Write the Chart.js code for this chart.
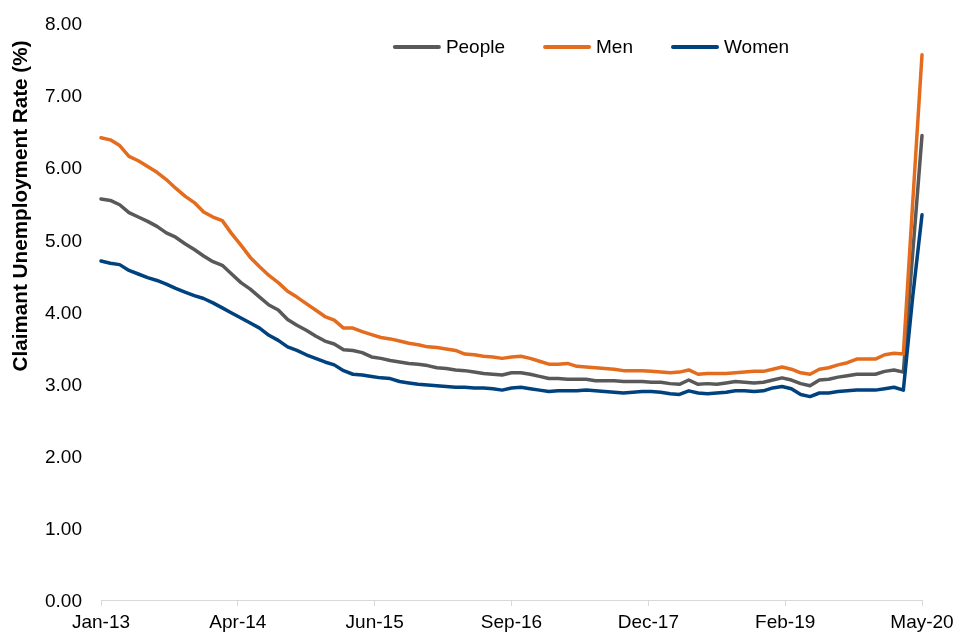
<!DOCTYPE html>
<html>
<head>
<meta charset="utf-8">
<script src="https://cdn.jsdelivr.net/npm/chart.js@4.4.1/dist/chart.umd.min.js"></script>
<style>
  html, body { margin: 0; padding: 0; background: #ffffff; }
  #wrap { width: 960px; height: 640px; position: relative; }
</style>
</head>
<body>
<div id="wrap"><canvas id="c"></canvas></div>
<script>
// ---- Data (monthly, Jan-13 .. May-20) ----
const xTickLabels = ['Jan-13', 'Apr-14', 'Jun-15', 'Sep-16', 'Dec-17', 'Feb-19', 'May-20'];
const yAxisTitle = 'Claimant Unemployment Rate (%)';
const seriesNames = ['People', 'Men', 'Women'];

const people = [
  5.56, 5.54, 5.48, 5.37, 5.31, 5.25, 5.18, 5.09, 5.03, 4.94, 4.86, 4.77,
  4.69, 4.64, 4.52, 4.40, 4.31, 4.20, 4.09, 4.02, 3.89, 3.81, 3.74, 3.66,
  3.59, 3.55, 3.47, 3.46, 3.43, 3.37, 3.35, 3.32, 3.30, 3.28, 3.27, 3.25,
  3.22, 3.21, 3.19, 3.18, 3.16, 3.14, 3.13, 3.12, 3.15, 3.15, 3.13, 3.10,
  3.07, 3.07, 3.06, 3.06, 3.06, 3.04, 3.04, 3.04, 3.03, 3.03, 3.03, 3.02,
  3.02, 3.00, 2.99, 3.05, 2.99, 3.00, 2.99, 3.01, 3.03, 3.02, 3.01, 3.02,
  3.05, 3.08, 3.05, 3.00, 2.97, 3.05, 3.06, 3.09, 3.11, 3.13, 3.13, 3.13,
  3.17, 3.19, 3.16, 4.80, 6.44
];
const men = [
  6.41, 6.38, 6.30, 6.15, 6.09, 6.01, 5.93, 5.83, 5.71, 5.60, 5.51, 5.38,
  5.31, 5.26, 5.08, 4.92, 4.75, 4.62, 4.50, 4.40, 4.28, 4.20, 4.11, 4.02,
  3.93, 3.88, 3.77, 3.77, 3.72, 3.68, 3.64, 3.62, 3.59, 3.56, 3.54, 3.51,
  3.50, 3.48, 3.46, 3.41, 3.40, 3.38, 3.37, 3.35, 3.37, 3.38, 3.35, 3.31,
  3.27, 3.27, 3.28, 3.24, 3.23, 3.22, 3.21, 3.20, 3.18, 3.18, 3.18, 3.17,
  3.16, 3.15, 3.16, 3.19, 3.13, 3.14, 3.14, 3.14, 3.15, 3.16, 3.17, 3.17,
  3.20, 3.23, 3.20, 3.15, 3.13, 3.20, 3.22, 3.26, 3.29, 3.34, 3.34, 3.34,
  3.40, 3.42, 3.41, 5.50, 7.56
];
const women = [
  4.70, 4.67, 4.65, 4.57, 4.52, 4.47, 4.43, 4.38, 4.32, 4.27, 4.22, 4.18,
  4.12, 4.05, 3.98, 3.91, 3.84, 3.77, 3.67, 3.60, 3.51, 3.46, 3.40, 3.35,
  3.30, 3.26, 3.18, 3.13, 3.12, 3.10, 3.08, 3.07, 3.03, 3.01, 2.99, 2.98,
  2.97, 2.96, 2.95, 2.95, 2.94, 2.94, 2.93, 2.91, 2.94, 2.95, 2.93, 2.91,
  2.89, 2.90, 2.90, 2.90, 2.91, 2.90, 2.89, 2.88, 2.87, 2.88, 2.89, 2.89,
  2.88, 2.86, 2.85, 2.90, 2.87, 2.86, 2.87, 2.88, 2.90, 2.90, 2.89, 2.90,
  2.94, 2.96, 2.93, 2.85, 2.82, 2.87, 2.87, 2.89, 2.90, 2.91, 2.91, 2.91,
  2.93, 2.95, 2.91, 4.20, 5.34
];
const seriesColors = ['#595959', '#E46C1E', '#00427D'];

// ---- Chart ----
const FONT = '"Liberation Sans", Arial, Helvetica, sans-serif';
const lastIndex = people.length - 1;
const toPoints = arr => arr.map((v, i) => ({ x: i, y: v }));
const seriesValues = [people, men, women];

const overlay = {
  id: 'overlay',
  afterDraw(chart) {
    const ctx = chart.ctx;
    // Y axis title
    ctx.save();
    ctx.translate(21, 206);
    ctx.rotate(-Math.PI / 2);
    ctx.font = 'bold 20.7px ' + FONT;
    ctx.fillStyle = '#000000';
    ctx.textAlign = 'center';
    ctx.textBaseline = 'middle';
    ctx.fillText(yAxisTitle, 0, 0);
    ctx.restore();
    // Legend
    ctx.save();
    ctx.font = '19px ' + FONT;
    const lineLen = 48, gapText = 5, gapItem = 38, y = 47;
    const items = chart.data.datasets.map(ds => ({
      label: ds.label, color: ds.borderColor, w: ctx.measureText(ds.label).width
    }));
    const total = items.reduce((s, it) => s + lineLen + gapText + it.w, 0) + gapItem * (items.length - 1);
    let x = 591 - total / 2;
    items.forEach(it => {
      ctx.strokeStyle = it.color;
      ctx.lineWidth = 4;
      ctx.lineCap = 'round';
      ctx.beginPath();
      ctx.moveTo(x + 2, y);
      ctx.lineTo(x + lineLen - 2, y);
      ctx.stroke();
      ctx.fillStyle = '#000000';
      ctx.textAlign = 'left';
      ctx.textBaseline = 'middle';
      ctx.fillText(it.label, x + lineLen + gapText, y + 1);
      x += lineLen + gapText + it.w + gapItem;
    });
    ctx.restore();
  }
};

new Chart(document.getElementById('c'), {
  type: 'line',
  data: {
    datasets: seriesNames.map((name, k) => ({
      label: name,
      data: toPoints(seriesValues[k]),
      borderColor: seriesColors[k],
      backgroundColor: seriesColors[k],
      borderWidth: 3.5,
      pointRadius: 0,
      pointHoverRadius: 0,
      tension: 0,
      fill: false,
      clip: 8,
      borderJoinStyle: 'round',
      borderCapStyle: 'round',
      order: seriesNames.length - k
    }))
  },
  options: {
    responsive: true,
    maintainAspectRatio: false,
    animation: false,
    layout: { padding: { top: 23, right: 38, left: 0, bottom: 0 } },
    plugins: {
      legend: { display: false },
      tooltip: { enabled: false },
      title: { display: false }
    },
    scales: {
      x: {
        type: 'linear',
        min: 0,
        max: lastIndex,
        afterBuildTicks: s => {
          s.ticks = xTickLabels.map((_, i) => ({ value: i * lastIndex / (xTickLabels.length - 1) }));
        },
        afterFit: s => { s.height = 40; },
        ticks: {
          autoSkip: false,
          maxRotation: 0,
          padding: 5,
          color: '#000000',
          font: { family: FONT, size: 19 },
          callback: (v, i) => xTickLabels[i]
        },
        grid: {
          display: true,
          drawOnChartArea: false,
          drawTicks: true,
          tickLength: 6,
          color: '#d9d9d9',
          lineWidth: 1
        },
        border: { display: true, color: '#d9d9d9', width: 1 }
      },
      y: {
        min: 0,
        max: 8,
        afterFit: s => { s.width = 101; s.paddingTop = 0; s.paddingBottom = 0; },
        ticks: {
          stepSize: 1,
          padding: 19,
          labelOffset: 2,
          color: '#000000',
          font: { family: FONT, size: 19 },
          callback: v => v.toFixed(2)
        },
        grid: { display: false, drawTicks: false },
        border: { display: false }
      }
    }
  },
  plugins: [overlay]
});
</script>
</body>
</html>
